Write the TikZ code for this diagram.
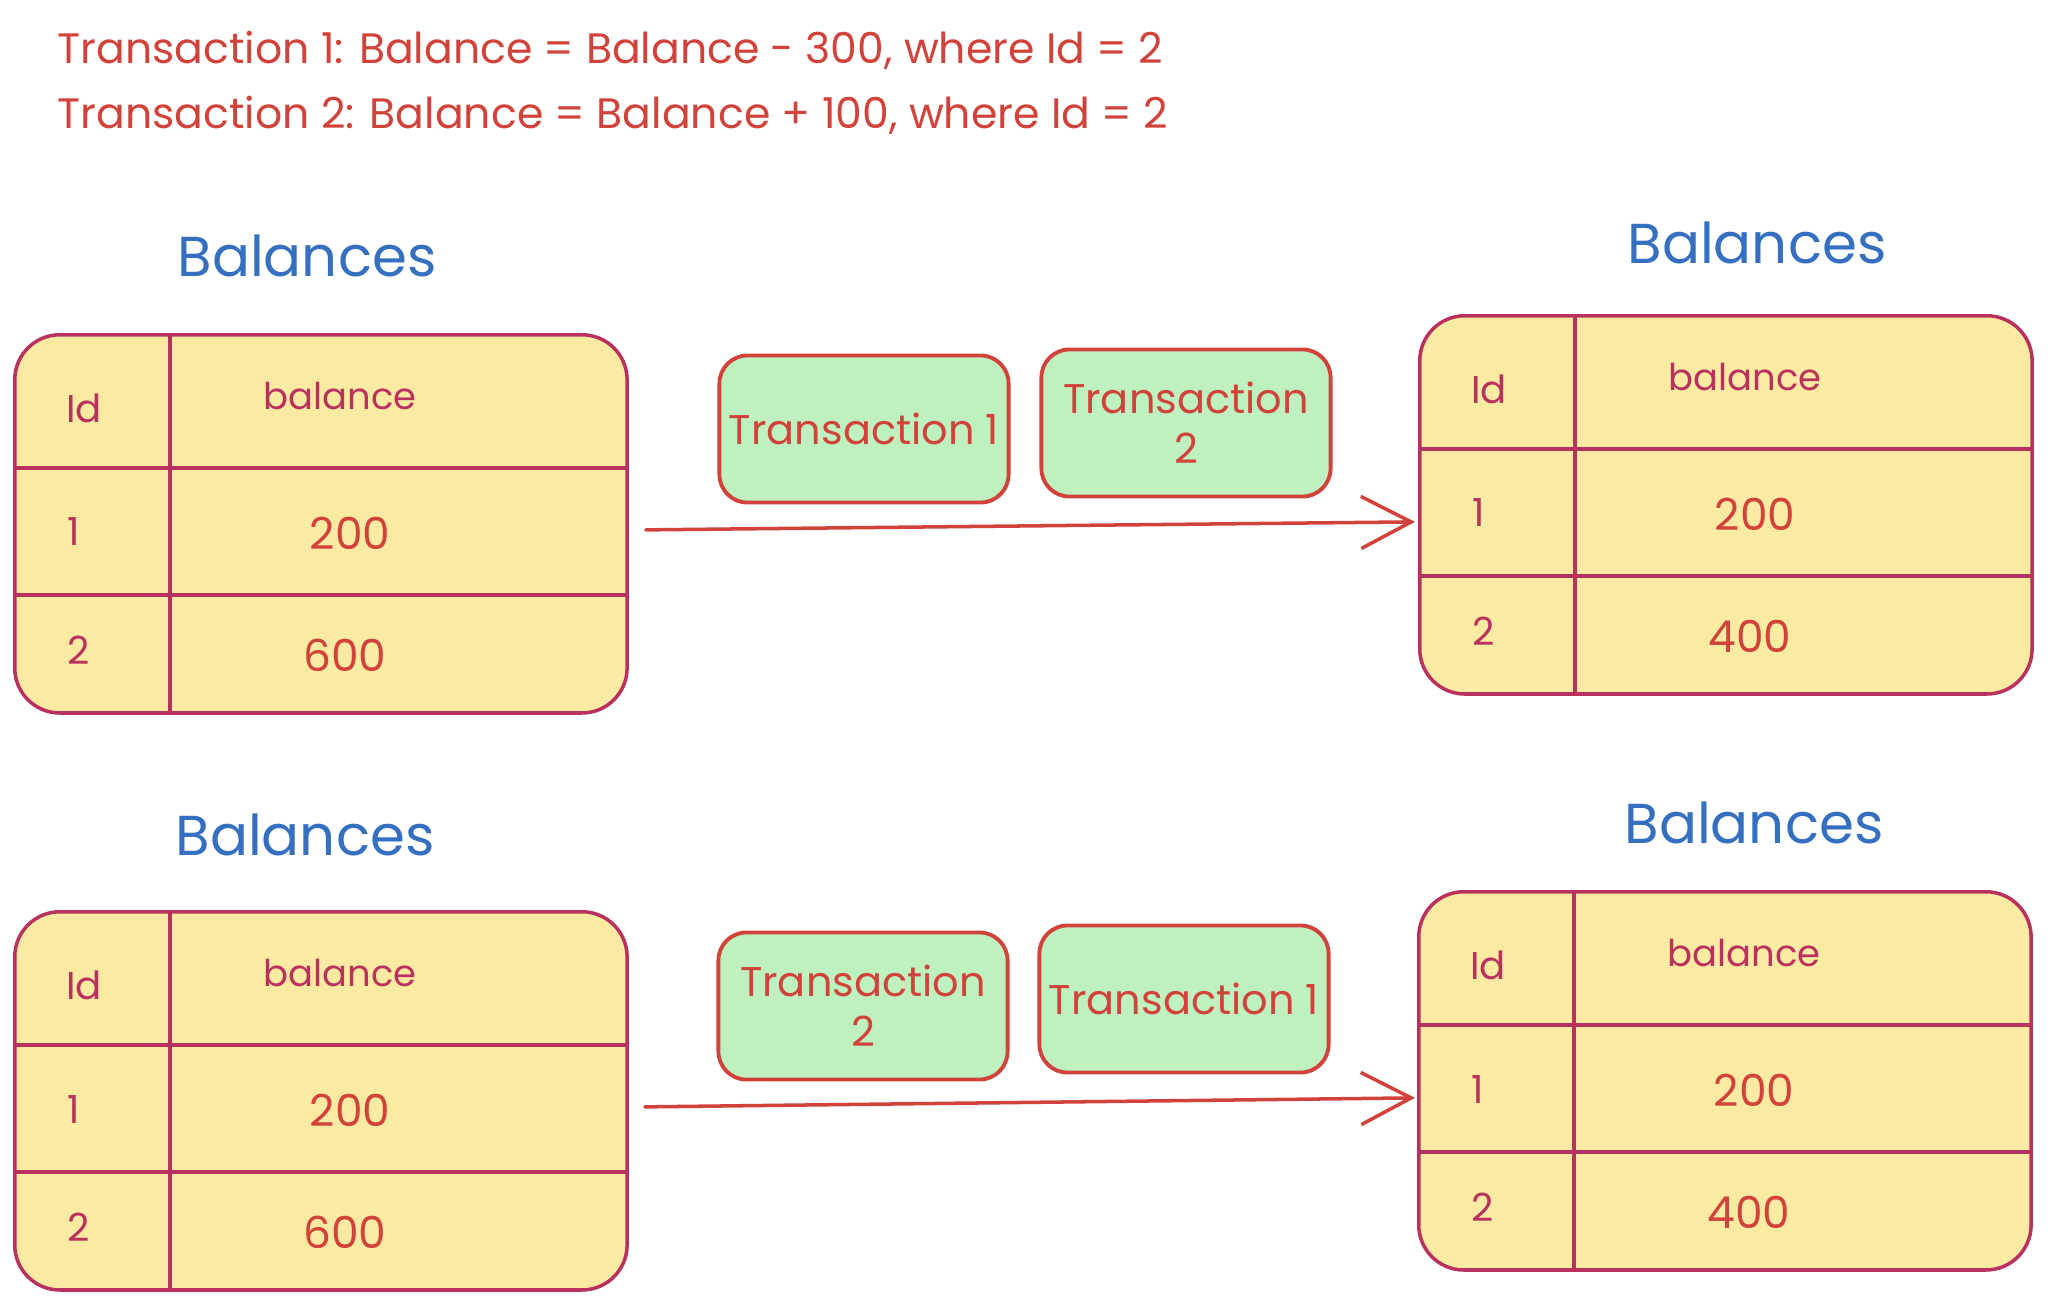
\documentclass[tikz,border=0pt]{standalone}
\usepackage{fontspec}
\setmainfont{Poppins}
\usetikzlibrary{arrows.meta,calc}
\definecolor{inkred}{RGB}{208,66,58}
\definecolor{tblmag}{RGB}{185,50,95}
\definecolor{tblfill}{RGB}{251,234,161}
\definecolor{grnfill}{RGB}{191,241,192}
\definecolor{ttlblue}{RGB}{53,112,192}
\begin{document}
\begin{tikzpicture}[x=0.01cm, y=-0.01cm, >={Straight Barb[length=0.5cm,width=0.52cm]},
	tbl/.style={draw=tblmag, fill=tblfill, line width=1pt, rounded corners=0.45cm, minimum width=6.12cm, minimum height=3.78cm, inner sep=0pt},
	grid/.style={draw=tblmag, line width=1pt},
	cellm/.style={text=tblmag, font=\fontsize{11}{13}\selectfont, inner sep=0pt},
	cellr/.style={text=inkred, font=\fontsize{12.5}{15}\selectfont, inner sep=0pt},
	title/.style={text=ttlblue, font=\fontsize{16}{19}\selectfont, inner sep=0pt, anchor=base},
	txbox/.style={draw=inkred, fill=grnfill, line width=1.1pt, rounded corners=0.28cm, minimum width=2.89cm, minimum height=1.47cm, inner sep=0pt, align=center, text=inkred, font=\fontsize{11.8}{14.3}\selectfont},
	rule/.style={text=inkred, font=\fontsize{12.1}{14}\selectfont, inner sep=0pt, anchor=base west},
	flow/.style={->, draw=inkred, line width=1pt, line cap=round}]
	\useasboundingbox (0,0) rectangle (2050,1302);
	% the two updates
	\node[rule] (upd1) at (57,63) {Transaction 1: Balance = Balance - 300, where Id = 2};
	\node[rule] (upd2) at (57,128) {Transaction 2: Balance = Balance + 100, where Id = 2};
	% titles
	\node[title] (ttlA) at (307,276) {Balances};
	\node[title] (ttlB) at (1757,263) {Balances};
	\node[title] (ttlC) at (305,855) {Balances};
	\node[title] (ttlD) at (1754,843) {Balances};
	% tables
	\foreach \t/\px/\py/\v in {A/13/333/600, B/1418/314/400, C/13/910/600, D/1417/890/400}{
		\node[tbl, anchor=north west] (tbl\t) at (\px,\py) {};
		\draw[grid] ($(tbl\t.north west)+(157,0)$) -- ($(tbl\t.south west)+(157,0)$)
			($(tbl\t.north west)+(0,135)$) -- ($(tbl\t.north east)+(0,135)$)
			($(tbl\t.north west)+(0,262)$) -- ($(tbl\t.north east)+(0,262)$);
		\node[cellm] (id\t) at ($(tbl\t.north west)+(71,75)$) {Id};
		\node[cellm, font=\fontsize{10.5}{13}\selectfont] (bal\t) at ($(tbl\t.north west)+(327,63)$) {balance};
		\node[cellm] (one\t) at ($(tbl\t.north west)+(61,199)$) {1};
		\node[cellr] (va\t) at ($(tbl\t.north west)+(337,200)$) {200};
		\node[cellm] (two\t) at ($(tbl\t.north west)+(66,317)$) {2};
		\node[cellr] (vb\t) at ($(tbl\t.north west)+(332,322)$) {\v};
	}
	% transactions in order
	\node[txbox] (txA1) at (864,429) {Transaction 1};
	\node[txbox] (txA2) at (1186,423) {Transaction\\2};
	\node[txbox] (txC2) at (863,1006) {Transaction\\2};
	\node[txbox] (txC1) at (1184,999) {Transaction 1};
	% arrows
	\draw[flow] ($(tblA.east)+(17,6)$) -- ($(tblB.west)+(-3,17)$);
	\draw[flow] ($(tblC.east)+(16,6)$) -- ($(tblD.west)+(-2,17)$);
\end{tikzpicture}
\end{document}
